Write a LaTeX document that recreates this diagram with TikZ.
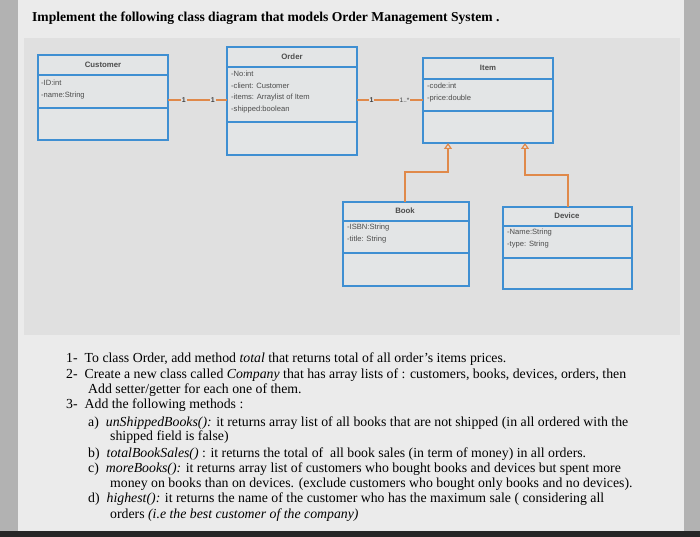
\documentclass[tikz,border=0pt]{standalone}
\usepackage{fontspec}
\setmainfont{Liberation Serif}
\newfontfamily\uml{Liberation Sans}
\usetikzlibrary{arrows.meta}
\definecolor{umlblue}{HTML}{3F8FD2}
\definecolor{umlor}{HTML}{E0894A}
\definecolor{boxfill}{HTML}{E3E5E6}
\tikzset{
  umlbox/.style={draw=umlblue,line width=1.3pt,fill=boxfill},
  umldiv/.style={draw=umlblue,line width=1.3pt},
  hdr/.style={font=\uml\fontsize{7.8}{9}\selectfont\bfseries,text=black!70},
  attr/.style={font=\uml\fontsize{7.6}{11.5}\selectfont,text=black!70,anchor=north west,align=left,inner sep=0pt},
  assoc/.style={draw=umlor,line width=1.2pt},
  mult/.style={font=\uml\fontsize{7}{8}\selectfont\bfseries,text=black!75,fill=black!12,inner sep=1pt},
  inherit/.style={draw=umlor,line width=1.2pt,-{Triangle[open,length=6pt,width=8pt,fill=boxfill]}},
  txt/.style={font=\fontsize{13.8}{15}\selectfont,anchor=base west,inner sep=0pt},
}
\begin{document}
\begin{tikzpicture}[x=1pt,y=-1pt]
\useasboundingbox (0,0) rectangle (700,537);
\fill[black!30] (0,0) rectangle (700,537);
\fill[black!85] (0,531) rectangle (700,537);
\fill[black!8] (18,0) rectangle (684,531);
\fill[black!12] (24,38) rectangle (680,335);
\node[font=\fontsize{13.6}{16}\selectfont\bfseries,anchor=base west,inner sep=0pt] (title) at (32,22) {Implement the following class diagram that models Order Management System .};

% Customer
\draw[umlbox] (38,55) rectangle (168,140);
\draw[umldiv] (38,75) -- (168,75) (38,108) -- (168,108);
\node[hdr] (cust) at (103,65) {Customer};
\node[attr] (custa) at (41,80) {-ID:int\\-name:String};
\coordinate (custR) at (168,100);
% Order
\draw[umlbox] (227,47) rectangle (357,155);
\draw[umldiv] (227,67) -- (357,67) (227,122) -- (357,122);
\node[hdr] (ord) at (292,57) {Order};
\node[attr] (orda) at (231,71) {-No:int\\-client: Customer\\-items: Arraylist of Item\\-shipped:boolean};
\coordinate (ordL) at (227,100);
\coordinate (ordR) at (357,100);
% Item
\draw[umlbox] (423,58) rectangle (553,143);
\draw[umldiv] (423,79) -- (553,79) (423,111) -- (553,111);
\node[hdr] (item) at (488,68) {Item};
\node[attr] (itema) at (427,83) {-code:int\\-price:double};
\coordinate (itemL) at (423,100);
% Book
\draw[umlbox] (343,202) rectangle (469,286);
\draw[umldiv] (343,221) -- (469,221) (343,253) -- (469,253);
\node[hdr] (book) at (405,211) {Book};
\node[attr] (booka) at (347,224) {-ISBN:String\\-title: String};
% Device
\draw[umlbox] (503,207) rectangle (632,289);
\draw[umldiv] (503,226) -- (632,226) (503,258) -- (632,258);
\node[hdr] (dev) at (567,216) {Device};
\node[attr] (deva) at (507,229) {-Name:String\\-type: String};

% associations
\draw[assoc] (custR) -- (ordL) node[mult,pos=0.27] {1} node[mult,pos=0.76] {1};
\draw[assoc] (ordR) -- (itemL) node[mult,pos=0.22] {1} node[mult,pos=0.72,font=\uml\fontsize{6.5}{7}\selectfont] {1..*};
% inheritance
\draw[inherit] (405,202) -- (405,172) -- (448,172) -- (448,143);
\draw[inherit] (568,207) -- (568,175) -- (525,175) -- (525,143);

% text
\node[txt] (l1) at (66,362) {1-\hspace{7pt}To class Order, add method \textit{total} that returns total of all order’s items prices.};
\node[txt] (l2) at (66,378) {2-\hspace{7pt}Create a new class called \textit{Company} that has array lists of : customers, books, devices, orders, then};
\node[txt] (l2b) at (88,393) {Add setter/getter for each one of them.};
\node[txt] (l3) at (66,408) {3-\hspace{7pt}Add the following methods :};
\node[txt] (la) at (88,426) {a)\hspace{7pt}\textit{unShippedBooks():} it returns array list of all books that are not shipped (in all ordered with the};
\node[txt] (la2) at (110,440) {shipped field is false)};
\node[txt] (lb) at (88,457) {b)\hspace{7pt}\textit{totalBookSales()} : it returns the total of\ \ all book sales (in term of money) in all orders.};
\node[txt] (lc) at (88,472) {c)\hspace{7pt}\textit{moreBooks():} it returns array list of customers who bought books and devices but spent more};
\node[txt] (lc2) at (110,487) {money on books than on devices. (exclude customers who bought only books and no devices).};
\node[txt] (ld) at (88,502) {d)\hspace{7pt}\textit{highest():} it returns the name of the customer who has the maximum sale ( considering all};
\node[txt] (ld2) at (110,518) {orders \textit{(i.e the best customer of the company)}};
\end{tikzpicture}
\end{document}
